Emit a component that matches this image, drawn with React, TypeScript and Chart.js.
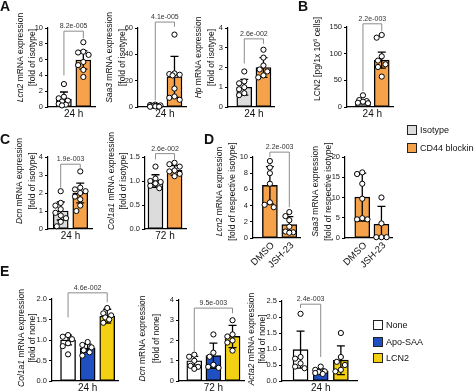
import React, { useEffect, useRef } from "react";
import { Chart, registerables } from "chart.js";
Chart.register(...registerables);

const FONT = '"Liberation Sans", Arial, Helvetica, sans-serif';
const COL_ISO = "#dcdcdc";
const COL_CD44 = "#f6a24b";
const COL_NONE = "#ffffff";
const COL_APO = "#1f4fc1";
const COL_LCN2 = "#f4d012";

// ---------- DATA ----------
// A – Lcn2 (24 h)
const aLcn2Means = [1.0, 5.95];
const aLcn2Sds = [0.9, 1.15];
const aLcn2Iso = [2.9, 1.3, 1.1, 0.8, 0.7, 0.4, 0.3, 0.2];
const aLcn2Cd44 = [8.2, 7.0, 6.9, 6.6, 5.7, 5.3, 4.7, 3.8];
const aLcn2Sig = { text: "8.2e-005", y: 9.6, drops: [4.0, 8.7] };
// A – Saa3 (24 h)
const aSaa3Means = [1.0, 23];
const aSaa3Sds = [0.6, 15.5];
const aSaa3Iso = [1.8, 1.5, 1.2, 1.0, 0.9, 0.7, 0.5, 0.3, 0.2];
const aSaa3Cd44 = [55, 25.5, 25, 24.5, 24, 14, 8, 7, 5.5];
const aSaa3Sig = { text: "4.1e-005", y: 64.5, drops: [5, 61] };
// A – Hp (24 h)
const aHpMeans = [1.0, 2.0];
const aHpSds = [0.4, 0.5];
const aHpIso = [1.8, 1.3, 1.2, 1.0, 0.9, 0.7, 0.6];
const aHpCd44 = [2.9, 2.5, 2.1, 1.9, 1.8, 1.6, 1.5];
const aHpSig = { text: "2.6e-002", y: 3.45, drops: [2.2, 3.2] };
// B – LCN2 protein (24 h)
const bMeans = [10, 88];
const bSds = [4, 15];
const bIso = [22, 13, 11, 10, 8, 7];
const bCd44 = [135, 130, 95, 87, 80, 75, 57];
const bSig = { text: "2.2e-003", y: 156, drops: [30, 142] };
// C – Dcn (24 h)
const cDcnMeans = [1.0, 2.0];
const cDcnSds = [0.5, 0.55];
const cDcnIso = [2.1, 1.45, 1.3, 1.1, 0.9, 0.75, 0.6, 0.4, 0.15];
const cDcnCd44 = [3.2, 2.3, 2.2, 2.1, 2.0, 1.8, 1.65, 1.3, 1.0];
const cDcnSig = { text: "1.9e-003", y: 3.6, drops: [2.3, 3.4] };
// C – Col1a1 (72 h)
const cColMeans = [1.0, 1.22];
const cColSds = [0.13, 0.1];
const cColIso = [1.3, 1.05, 1.0, 0.98, 0.95, 0.9, 0.85];
const cColCd44 = [1.38, 1.35, 1.3, 1.22, 1.2, 1.15, 1.1];
const cColSig = { text: "2.6e-002", y: 1.57, drops: [1.45, 1.45] };
// D – Lcn2
const dGroups = ["DMSO", "JSH-23"];
const dLcn2Means = [6.5, 1.65];
const dLcn2Sds = [2.3, 1.0];
const dLcn2Dmso = [9.5, 8.7, 8.0, 6.7, 4.4, 4.1, 3.8];
const dLcn2Jsh = [3.2, 2.7, 2.2, 1.4, 0.8, 0.7, 0.65];
const dLcn2Sig = { text: "2.2e-003", y: 10.6, drops: [10.0, 3.8] };
// D – Saa3
const dSaa3Means = [10.1, 3.4];
const dSaa3Sds = [5.9, 4.4];
const dSaa3Dmso = [16.2, 15.8, 13.4, 9.7, 4.9, 4.6, 4.6];
const dSaa3Jsh = [10, 3.6, 0.2, 0.2, 0.2];
// E – Col1a1 (24 h)
const eColMeans = [1.0, 0.8, 1.58];
const eColSds = [0.12, 0.1, 0.17];
const eColNone = [1.12, 1.08, 1.02, 0.92, 0.85, 0.65];
const eColApo = [0.95, 0.88, 0.82, 0.75, 0.7, 0.62];
const eColLcn2 = [1.78, 1.65, 1.6, 1.55, 1.5, 1.42];
const eColSig = { text: "4.6e-002", y: 2.15, drops: [1.55, 1.92] };
// E – Dcn (72 h)
const eDcnMeans = [1.0, 1.25, 2.2];
const eDcnSds = [0.22, 0.62, 0.55];
const eDcnNone = [1.3, 1.2, 1.0, 0.75, 0.7, 0.6];
const eDcnApo = [2.3, 1.4, 1.2, 0.8, 0.7, 0.65];
const eDcnLcn2 = [3.0, 2.3, 2.2, 2.0, 1.9, 1.5];
const eDcnSig = { text: "9.5e-003", y: 3.6, drops: [1.45, 3.35] };
// E – Acta2 (24 h)
const eActMeans = [0.98, 0.3, 0.65];
const eActSds = [0.58, 0.08, 0.45];
const eActNone = [2.1, 0.75, 0.7, 0.55, 0.45, 0.4];
const eActApo = [0.45, 0.35, 0.3, 0.28, 0.25, 0.22];
const eActLcn2 = [1.5, 0.75, 0.6, 0.5, 0.35, 0.3];
const eActSig = { text: "2.4e-003", y: 2.4, drops: [2.28, 0.75] };

const legend1 = ["Isotype", "CD44 blocking"];
const legend2 = ["None", "Apo-SAA", "LCN2"];

// ---------- TYPES ----------
type Seg = { t: string; i?: boolean; sup?: boolean };
type Sig = { text: string; y: number; drops: number[] };
type PanelCfg = {
  L: number; T: number; R: number; B: number;
  xMin: number; xMax: number;
  yMax: number; yStep: number; dec: number;
  means: number[]; sds: number[]; pts: number[][]; colors: string[];
  title: Seg[][]; titleDx: number[]; titleDy: number;
  xLabel?: string; tickLabels?: string[];
  sig?: Sig; sigFrom?: number; sigTo?: number;
};

function swarm(vals: number[], gi: number, yMax: number, hPx: number, spPx: number) {
  const cands = [0, -0.2, 0.2, -0.1, 0.1, -0.27, 0.27];
  const placed: { o: number; py: number; v: number }[] = [];
  const order = vals.map((_, k) => k).sort((a, b) => vals[b] - vals[a]);
  for (const k of order) {
    const py = (vals[k] / yMax) * hPx;
    let best = 0, bestD = -1;
    for (const c of cands) {
      const d = placed.reduce((mn, p) => Math.min(mn, Math.hypot((p.o - c) * spPx, p.py - py)), Infinity);
      if (d >= 5.5) { best = c; break; }
      if (d > bestD) { bestD = d; best = c; }
    }
    placed.push({ o: best, py, v: vals[k] });
  }
  return placed.map((p) => ({ x: gi + p.o, y: p.v }));
}

function drawSegs(ctx: CanvasRenderingContext2D, segs: Seg[], size: number) {
  const fontFor = (s: Seg) => `${s.i ? "italic " : ""}${s.sup ? size * 0.7 : size}px ${FONT}`;
  let w = 0;
  for (const s of segs) { ctx.font = fontFor(s); w += ctx.measureText(s.t).width; }
  let pos = -w / 2;
  for (const s of segs) {
    ctx.font = fontFor(s);
    ctx.fillText(s.t, pos, s.sup ? -size * 0.35 : 0);
    pos += ctx.measureText(s.t).width;
  }
}

function makeOverlay(cfg: PanelCfg) {
  return {
    id: "overlay",
    afterDatasetDraw(chart: any, args: any) {
      if (args.meta.type !== "bar") return;
      const ctx = chart.ctx, xs = chart.scales.x, ys = chart.scales.y;
      ctx.save();
      ctx.strokeStyle = "#000";
      ctx.lineWidth = 1.3;
      cfg.means.forEach((m, i) => {
        const x = xs.getPixelForValue(i);
        const yt = ys.getPixelForValue(m + cfg.sds[i]);
        const yb = ys.getPixelForValue(Math.max(0, m - cfg.sds[i]));
        ctx.beginPath();
        ctx.moveTo(x, yb); ctx.lineTo(x, yt);
        ctx.moveTo(x - 4, yt); ctx.lineTo(x + 4, yt);
        ctx.moveTo(x - 4, yb); ctx.lineTo(x + 4, yb);
        ctx.stroke();
      });
      ctx.restore();
    },
    afterDraw(chart: any) {
      const ctx: CanvasRenderingContext2D = chart.ctx;
      const xs = chart.scales.x, ys = chart.scales.y;
      const area = chart.chartArea;
      ctx.save();
      ctx.fillStyle = "#111";
      const yc = (area.top + area.bottom) / 2 + cfg.titleDy;
      cfg.title.forEach((line, j) => {
        ctx.save();
        ctx.translate(area.left - cfg.titleDx[j], yc);
        ctx.rotate(-Math.PI / 2);
        ctx.textBaseline = "middle";
        ctx.textAlign = "left";
        drawSegs(ctx, line, 8.5);
        ctx.restore();
      });
      const n = cfg.means.length;
      if (cfg.xLabel) {
        const cx = (xs.getPixelForValue(0) + xs.getPixelForValue(n - 1)) / 2;
        ctx.font = `10px ${FONT}`;
        ctx.textAlign = "center";
        ctx.textBaseline = "middle";
        ctx.fillText(cfg.xLabel, cx, area.bottom + 7);
      }
      if (cfg.tickLabels) {
        ctx.font = `9.5px ${FONT}`;
        ctx.textAlign = "right";
        ctx.textBaseline = "middle";
        cfg.tickLabels.forEach((lab, i) => {
          ctx.save();
          ctx.translate(xs.getPixelForValue(i) + 3, area.bottom + 6);
          ctx.rotate(-Math.PI / 4);
          ctx.fillText(lab, 0, 0);
          ctx.restore();
        });
      }
      if (cfg.sig) {
        const a = cfg.sigFrom ?? 0, b = cfg.sigTo ?? 1;
        const x0 = xs.getPixelForValue(a), x1 = xs.getPixelForValue(b);
        const y = ys.getPixelForValue(cfg.sig.y);
        ctx.strokeStyle = "#8c8c8c";
        ctx.lineWidth = 1;
        ctx.beginPath();
        ctx.moveTo(x0, ys.getPixelForValue(cfg.sig.drops[0]));
        ctx.lineTo(x0, y);
        ctx.lineTo(x1, y);
        ctx.lineTo(x1, ys.getPixelForValue(cfg.sig.drops[1]));
        ctx.stroke();
        ctx.fillStyle = "#333";
        ctx.font = `7px ${FONT}`;
        ctx.textAlign = "center";
        ctx.textBaseline = "middle";
        ctx.fillText(cfg.sig.text, (x0 + x1) / 2, y - 5);
      }
      ctx.restore();
    },
  };
}

function Panel({ cfg }: { cfg: PanelCfg }) {
  const ref = useRef<HTMLCanvasElement>(null);
  const cx = cfg.L - 56, cy = cfg.T - 30;
  const cw = cfg.R - cx + 6, ch = cfg.B - cy + 32;
  useEffect(() => {
    const yW = 24, xH = 2;
    const hPx = cfg.B - cfg.T;
    const spPx = (cfg.R - cfg.L) / (cfg.xMax - cfg.xMin);
    const pts = cfg.pts.flatMap((g, gi) => swarm(g, gi, cfg.yMax, hPx, spPx));
    const ticks: number[] = [];
    for (let v = 0; v <= cfg.yMax + 1e-9; v += cfg.yStep) ticks.push(+v.toFixed(4));
    const chart = new Chart(ref.current as HTMLCanvasElement, {
      type: "bar",
      data: {
        datasets: [
          {
            type: "scatter", data: pts, pointRadius: 2.6, pointBackgroundColor: "#ffffff",
            pointBorderColor: "#000000", pointBorderWidth: 1, order: 0, clip: false,
          } as any,
          {
            type: "bar", data: cfg.means.map((m, i) => ({ x: i, y: m })), backgroundColor: cfg.colors,
            borderColor: "#000000", borderWidth: 1.4, borderSkipped: false, barThickness: 15, order: 1,
          } as any,
        ],
      },
      options: {
        animation: false,
        responsive: false,
        events: [],
        layout: {
          padding: { left: cfg.L - cx - yW, top: cfg.T - cy, right: cx + cw - cfg.R, bottom: cy + ch - cfg.B - xH },
        },
        plugins: { legend: { display: false }, tooltip: { enabled: false } },
        scales: {
          x: {
            type: "linear", min: cfg.xMin, max: cfg.xMax, offset: false, bounds: "data",
            ticks: { display: false },
            grid: { display: false, offset: false },
            border: { display: true, color: "#000", width: 1.2 },
            afterFit: (s: any) => { s.height = xH; },
          },
          y: {
            type: "linear", min: 0, max: cfg.yMax,
            afterBuildTicks: (s: any) => { s.ticks = ticks.map((v) => ({ value: v })); },
            ticks: {
              callback: (v: any) => Number(v).toFixed(cfg.dec),
              font: { family: FONT, size: 7.5 }, color: "#1a1a1a", padding: 2,
            },
            grid: { display: true, drawOnChartArea: false, drawTicks: true, tickLength: 3, color: "#000", lineWidth: 1 },
            border: { display: true, color: "#000", width: 1.2 },
            afterFit: (s: any) => { s.width = yW; },
          },
        },
      } as any,
      plugins: [makeOverlay(cfg)],
    });
    return () => chart.destroy();
  }, []);
  return (
    <canvas ref={ref} width={cw} height={ch}
      style={{ position: "absolute", left: cx, top: cy, width: cw, height: ch }} />
  );
}

const isoLine: Seg[] = [{ t: "[fold of isotype]" }];
const respLine: Seg[] = [{ t: "[fold of respective isotype]" }];
const noneLine: Seg[] = [{ t: "[fold of none]" }];
const gene = (g: string): Seg[] => [{ t: g, i: true }, { t: " mRNA expression" }];

const panels: PanelCfg[] = [
  {
    L: 48, T: 28, R: 95, B: 107, xMin: -0.82, xMax: 1.6, yMax: 10, yStep: 2, dec: 0,
    means: aLcn2Means, sds: aLcn2Sds, pts: [aLcn2Iso, aLcn2Cd44], colors: [COL_ISO, COL_CD44],
    title: [gene("Lcn2"), isoLine], titleDx: [27, 15], titleDy: -10, xLabel: "24 h", sig: aLcn2Sig,
  },
  {
    L: 138, T: 28, R: 186, B: 107, xMin: -0.9, xMax: 1.6, yMax: 60, yStep: 20, dec: 0,
    means: aSaa3Means, sds: aSaa3Sds, pts: [aSaa3Iso, aSaa3Cd44], colors: [COL_ISO, COL_CD44],
    title: [gene("Saa3"), isoLine], titleDx: [28, 15], titleDy: -10, xLabel: "24 h", sig: aSaa3Sig,
  },
  {
    L: 228, T: 28, R: 274, B: 107, xMin: -0.85, xMax: 1.55, yMax: 4, yStep: 1, dec: 0,
    means: aHpMeans, sds: aHpSds, pts: [aHpIso, aHpCd44], colors: [COL_ISO, COL_CD44],
    title: [gene("Hp"), isoLine], titleDx: [29, 16], titleDy: -10, xLabel: "24 h", sig: aHpSig,
  },
  {
    L: 347, T: 27, R: 393, B: 107, xMin: -0.85, xMax: 1.6, yMax: 150, yStep: 50, dec: 0,
    means: bMeans, sds: bSds, pts: [bIso, bCd44], colors: [COL_ISO, COL_CD44],
    title: [[{ t: "LCN2 [pg/1x 10" }, { t: "6", sup: true }, { t: " cells]" }]], titleDx: [29], titleDy: -8,
    xLabel: "24 h", sig: bSig,
  },
  {
    L: 48, T: 157, R: 92, B: 229, xMin: -0.65, xMax: 1.6, yMax: 4, yStep: 1, dec: 0,
    means: cDcnMeans, sds: cDcnSds, pts: [cDcnIso, cDcnCd44], colors: [COL_ISO, COL_CD44],
    title: [gene("Dcn"), isoLine], titleDx: [28, 15], titleDy: -12, xLabel: "24 h", sig: cDcnSig,
  },
  {
    L: 145, T: 157, R: 186, B: 229, xMin: -0.55, xMax: 1.6, yMax: 1.5, yStep: 0.5, dec: 1,
    means: cColMeans, sds: cColSds, pts: [cColIso, cColCd44], colors: [COL_ISO, COL_CD44],
    title: [gene("Col1a1"), isoLine], titleDx: [33, 21], titleDy: -12, xLabel: "72 h", sig: cColSig,
  },
  {
    L: 253, T: 157, R: 300, B: 238, xMin: -0.87, xMax: 1.55, yMax: 10, yStep: 2, dec: 0,
    means: dLcn2Means, sds: dLcn2Sds, pts: [dLcn2Dmso, dLcn2Jsh], colors: [COL_CD44, COL_CD44],
    title: [gene("Lcn2"), respLine], titleDx: [33, 20], titleDy: -6, tickLabels: dGroups, sig: dLcn2Sig,
  },
  {
    L: 345, T: 157, R: 392, B: 238, xMin: -0.9, xMax: 1.55, yMax: 20, yStep: 5, dec: 0,
    means: dSaa3Means, sds: dSaa3Sds, pts: [dSaa3Dmso, dSaa3Jsh], colors: [COL_CD44, COL_CD44],
    title: [gene("Saa3"), respLine], titleDx: [29, 16], titleDy: -6, tickLabels: dGroups,
  },
  {
    L: 52, T: 299, R: 118, B: 381, xMin: -0.82, xMax: 2.55, yMax: 2, yStep: 0.5, dec: 1,
    means: eColMeans, sds: eColSds, pts: [eColNone, eColApo, eColLcn2], colors: [COL_NONE, COL_APO, COL_LCN2],
    title: [gene("Col1a1"), noneLine], titleDx: [30, 19], titleDy: -2, xLabel: "24 h",
    sig: eColSig, sigFrom: 0, sigTo: 2,
  },
  {
    L: 179, T: 300, R: 244, B: 381, xMin: -0.8, xMax: 2.6, yMax: 4, yStep: 1, dec: 0,
    means: eDcnMeans, sds: eDcnSds, pts: [eDcnNone, eDcnApo, eDcnLcn2], colors: [COL_NONE, COL_APO, COL_LCN2],
    title: [gene("Dcn"), noneLine], titleDx: [36, 22], titleDy: -2, xLabel: "72 h",
    sig: eDcnSig, sigFrom: 0, sigTo: 2,
  },
  {
    L: 282, T: 301, R: 357, B: 381, xMin: -0.92, xMax: 2.8, yMax: 2.5, yStep: 0.5, dec: 1,
    means: eActMeans, sds: eActSds, pts: [eActNone, eActApo, eActLcn2], colors: [COL_NONE, COL_APO, COL_LCN2],
    title: [gene("Acta2"), noneLine], titleDx: [30, 19], titleDy: -2, xLabel: "24 h",
    sig: eActSig, sigFrom: 0, sigTo: 1,
  },
];

function LegendItem({ x, y, color, label }: { x: number; y: number; color: string; label: string }) {
  return (
    <>
      <div style={{
        position: "absolute", left: x, top: y, width: 10, height: 10, boxSizing: "border-box",
        background: color, border: "1px solid #222",
      }} />
      <div style={{
        position: "absolute", left: x + 13, top: y - 1, font: `9px ${FONT}`, lineHeight: "12px",
        whiteSpace: "nowrap", color: "#111",
      }}>
        {label}
      </div>
    </>
  );
}

function Letter({ x, y, t }: { x: number; y: number; t: string }) {
  return (
    <div style={{ position: "absolute", left: x, top: y, font: `bold 14px ${FONT}`, lineHeight: "14px", color: "#111" }}>
      {t}
    </div>
  );
}

export default function App() {
  return (
    <div style={{ position: "absolute", left: 0, top: 0, width: 474, height: 391, overflow: "hidden", background: "#fff" }}>
      {panels.map((p, i) => <Panel key={i} cfg={p} />)}
      <Letter x={0} y={-1} t="A" />
      <Letter x={298} y={-1} t="B" />
      <Letter x={0} y={132} t="C" />
      <Letter x={204} y={132} t="D" />
      <Letter x={0} y={264} t="E" />
      <LegendItem x={407} y={125} color={COL_ISO} label={legend1[0]} />
      <LegendItem x={407} y={143} color={COL_CD44} label={legend1[1]} />
      <LegendItem x={373} y={320} color={COL_NONE} label={legend2[0]} />
      <LegendItem x={373} y={337} color={COL_APO} label={legend2[1]} />
      <LegendItem x={373} y={353} color={COL_LCN2} label={legend2[2]} />
    </div>
  );
}
